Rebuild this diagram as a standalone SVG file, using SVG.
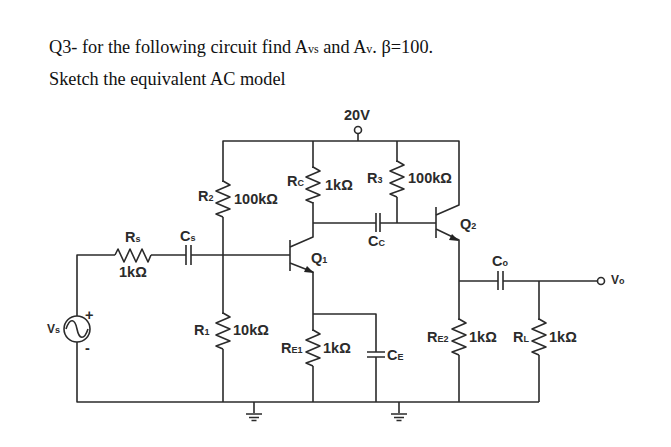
<svg xmlns="http://www.w3.org/2000/svg" width="671" height="447" viewBox="0 0 671 447">
<style>
.w{fill:none;stroke:#2b2b2b;stroke-width:1.6;stroke-linejoin:round}
.h{font-family:"Liberation Serif",serif;font-size:18.300px;fill:#111}
.l{font-family:"Liberation Sans",sans-serif;font-size:14.500px;font-weight:bold;fill:#2b2b2b}
.s{font-size:9px}
.t{font-size:12px}
</style>
<defs>
<path id="res" class="w" d="M0 0V-1L7 3L-7 9L7 15L-7 21L7 27L-7 32L0 35"/>
<path id="gnd" class="w" d="M0 0V11M-8 12H8M-5 15.500H5M-2.500 18.500H2.500"/>
</defs>
<g id="question">
<text class="h" x="49" y="53">Q3- for the following circuit find A<tspan font-size="12">vs</tspan> and A<tspan font-size="12">v</tspan>. β=100.</text>
<text class="h" x="49" y="85">Sketch the equivalent AC model</text>
</g>
<g id="connectors">
<path class="w" d="M223 182V141H459V205L436 215"/>
<path class="w" d="M313 141V168M313 202V237L290 247"/>
<path class="w" d="M397 141V162M397 197V223M313 223H376M380 223H436"/>
<path class="w" d="M77 316V255H115M151 255H186M191 255H290"/>
<path class="w" d="M223 217V314M223 349V402"/>
<path class="w" d="M290 263L313 272V331M313 366V402"/>
<path class="w" d="M313 314H376V352M376 357V402"/>
<path class="w" d="M436 229L459 240V320M459 355V402"/>
<path class="w" d="M459 281H498M503 281H598"/>
<path class="w" d="M539 281V320M539 355V402"/>
<path class="w" d="M77 342V402H539"/>
</g>
<g id="vcc"><path class="w" d="M358 141V134"/><circle class="w" cx="358" cy="130" r="3.500"/><text class="l" x="344" y="120">20V</text></g>
<g id="Vs"><circle class="w" cx="77" cy="329" r="13"/><path class="w" d="M66 329C70 317 75 319 77 329S84 341 88 329"/><text class="l t" x="47" y="333">V<tspan class="s">s</tspan></text><text class="l" x="85" y="320">+</text><text class="l" x="85" y="353">-</text></g>
<g id="Rs"><path class="w" d="M115 255L118 249L124 262L130 249L136 262L142 249L148 262L151 255"/><text class="l" x="125" y="242">R<tspan class="s">s</tspan></text><text class="l" x="119" y="277">1kΩ</text></g>
<g id="Cs"><path class="w" d="M186 245V265M191 245V265"/><text class="l" x="180" y="241">C<tspan class="s">s</tspan></text></g>
<g id="R2"><use href="#res" x="223" y="182"/><text class="l" x="198" y="201">R<tspan class="s">2</tspan></text><text class="l" x="234" y="204">100kΩ</text></g>
<g id="R1"><use href="#res" x="223" y="314"/><text class="l" x="194" y="335">R<tspan class="s">1</tspan></text><text class="l" x="233" y="335">10kΩ</text></g>
<g id="RC"><use href="#res" x="313" y="168"/><text class="l" x="287" y="186">R<tspan class="s">C</tspan></text><text class="l" x="325" y="190">1kΩ</text></g>
<g id="R3"><use href="#res" x="397" y="162"/><text class="l" x="367" y="183">R<tspan class="s">3</tspan></text><text class="l" x="408" y="183">100kΩ</text></g>
<g id="Cc"><path class="w" d="M376 213V232M380 213V232"/><text class="l" x="368" y="246">C<tspan class="s">C</tspan></text></g>
<g id="Q1"><path class="w" d="M290 240V271"/><path d="M314 273L304 272L307 266Z" fill="#222"/><text class="l" x="311" y="263">Q<tspan class="s">1</tspan></text></g>
<g id="Q2"><path class="w" d="M436 207V238"/><path d="M459 241L449 240L452 234Z" fill="#222"/><text class="l" x="460" y="229">Q<tspan class="s">2</tspan></text></g>
<g id="RE1"><use href="#res" x="313" y="331"/><text class="l" x="281" y="353">R<tspan class="s">E1</tspan></text><text class="l" x="323" y="353">1kΩ</text></g>
<g id="CE"><path class="w" d="M367 352H385M367 357H385"/><text class="l" x="387" y="360">C<tspan class="s">E</tspan></text></g>
<g id="RE2"><use href="#res" x="459" y="320"/><text class="l" x="427" y="342">R<tspan class="s">E2</tspan></text><text class="l" x="469" y="342">1kΩ</text></g>
<g id="Co"><path class="w" d="M498 271V290M503 271V290"/><text class="l" x="492" y="266">C<tspan class="s">o</tspan></text></g>
<g id="RL"><use href="#res" x="539" y="320"/><text class="l" x="513" y="342">R<tspan class="s">L</tspan></text><text class="l" x="549" y="342">1kΩ</text></g>
<g id="Vo"><circle class="w" cx="601" cy="281" r="3.500" fill="#fff"/><text class="l t" x="611" y="284">V<tspan class="s">o</tspan></text></g>
<g id="ground1"><use href="#gnd" x="254" y="402"/></g>
<g id="ground2"><use href="#gnd" x="399" y="402"/></g>
</svg>
